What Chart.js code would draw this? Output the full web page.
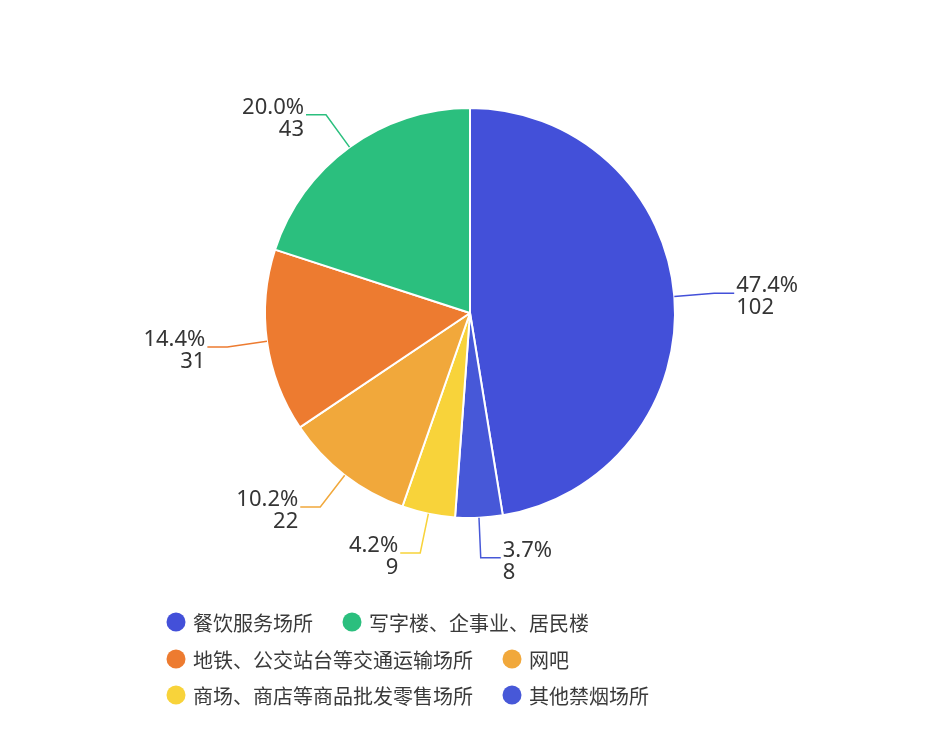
<!DOCTYPE html>
<html>
<head>
<meta charset="utf-8">
<script src="https://cdn.jsdelivr.net/npm/chart.js@4/dist/chart.umd.min.js"></script>
<style>
  html, body { margin: 0; padding: 0; background: #ffffff; }
  #wrap { width: 944px; height: 756px; }
</style>
</head>
<body>
<div id="wrap"><canvas id="c" width="944" height="756"></canvas></div>
<script>
// Data (clockwise from 12 o'clock)
const categories = ['餐饮服务场所', '其他禁烟场所', '商场、商店等商品批发零售场所', '网吧', '地铁、公交站台等交通运输场所', '写字楼、企事业、居民楼'];
const values = [102, 8, 9, 22, 31, 43];
const colors = ['#4350d9', '#4758d8', '#f8d33a', '#f1a83b', '#ed7b30', '#2bbf7e'];
// legend display order (indices into categories)
const legendOrder = [0, 5, 4, 3, 2, 1];

const total = values.reduce((a, b) => a + b, 0);

const leaderLabels = {
  id: 'leaderLabels',
  afterDatasetsDraw(chart) {
    const ctx = chart.ctx;
    const meta = chart.getDatasetMeta(0);
    ctx.save();
    meta.data.forEach((arc, i) => {
      const p = arc.getProps(['x', 'y', 'startAngle', 'endAngle', 'outerRadius'], true);
      const mid = (p.startAngle + p.endAngle) / 2;
      const c = Math.cos(mid), s = Math.sin(mid);
      const R = p.outerRadius;
      const x0 = p.x + c * R, y0 = p.y + s * R;
      const x1 = p.x + c * (R + 40), y1 = p.y + s * (R + 40);
      const right = c >= 0;
      const x2 = x1 + (right ? 20 : -20);
      ctx.strokeStyle = colors[i];
      ctx.lineWidth = 1.5;
      ctx.beginPath();
      ctx.moveTo(x0, y0);
      ctx.lineTo(x1, y1);
      ctx.lineTo(x2, y1);
      ctx.stroke();
      const pct = (values[i] / total * 100).toFixed(1) + '%';
      ctx.fillStyle = '#353535';
      ctx.font = '22px "Noto Sans", "Liberation Sans", sans-serif';
      ctx.textAlign = right ? 'left' : 'right';
      ctx.textBaseline = 'alphabetic';
      const tx = x2 + (right ? 2 : -2);
      ctx.fillText(pct, tx, y1 - 1);
      ctx.fillText(String(values[i]), tx, y1 + 21);
    });
    ctx.restore();
  }
};

const customLegend = {
  id: 'customLegend',
  afterDraw(chart) {
    const ctx = chart.ctx;
    ctx.save();
    ctx.font = '20px "Noto Sans CJK SC", sans-serif';
    ctx.textBaseline = 'middle';
    ctx.textAlign = 'left';
    const startX = 167;
    const rowsY = [622, 659, 695];
    const perRow = 2;
    legendOrder.forEach((idx, k) => {
      const row = Math.floor(k / perRow);
      const col = k % perRow;
      let x = startX;
      if (col === 1) {
        const prev = legendOrder[k - 1];
        x = startX + 26 + ctx.measureText(categories[prev]).width + 30;
      }
      const y = rowsY[row];
      ctx.fillStyle = colors[idx];
      ctx.beginPath();
      ctx.arc(x + 9, y, 9.5, 0, Math.PI * 2);
      ctx.fill();
      ctx.fillStyle = '#3a3a3a';
      ctx.fillText(categories[idx], x + 26, y + 1);
    });
    ctx.restore();
  }
};

new Chart(document.getElementById('c'), {
  type: 'pie',
  data: {
    labels: categories,
    datasets: [{
      data: values,
      backgroundColor: colors,
      borderColor: '#ffffff',
      borderWidth: 2,
      hoverOffset: 0,
      radius: 205
    }]
  },
  options: {
    responsive: false,
    animation: false,
    layout: { padding: { left: 265, top: 108, right: 269, bottom: 238 } },
    plugins: {
      legend: { display: false },
      tooltip: { enabled: false }
    }
  },
  plugins: [leaderLabels, customLegend]
});
</script>
</body>
</html>
